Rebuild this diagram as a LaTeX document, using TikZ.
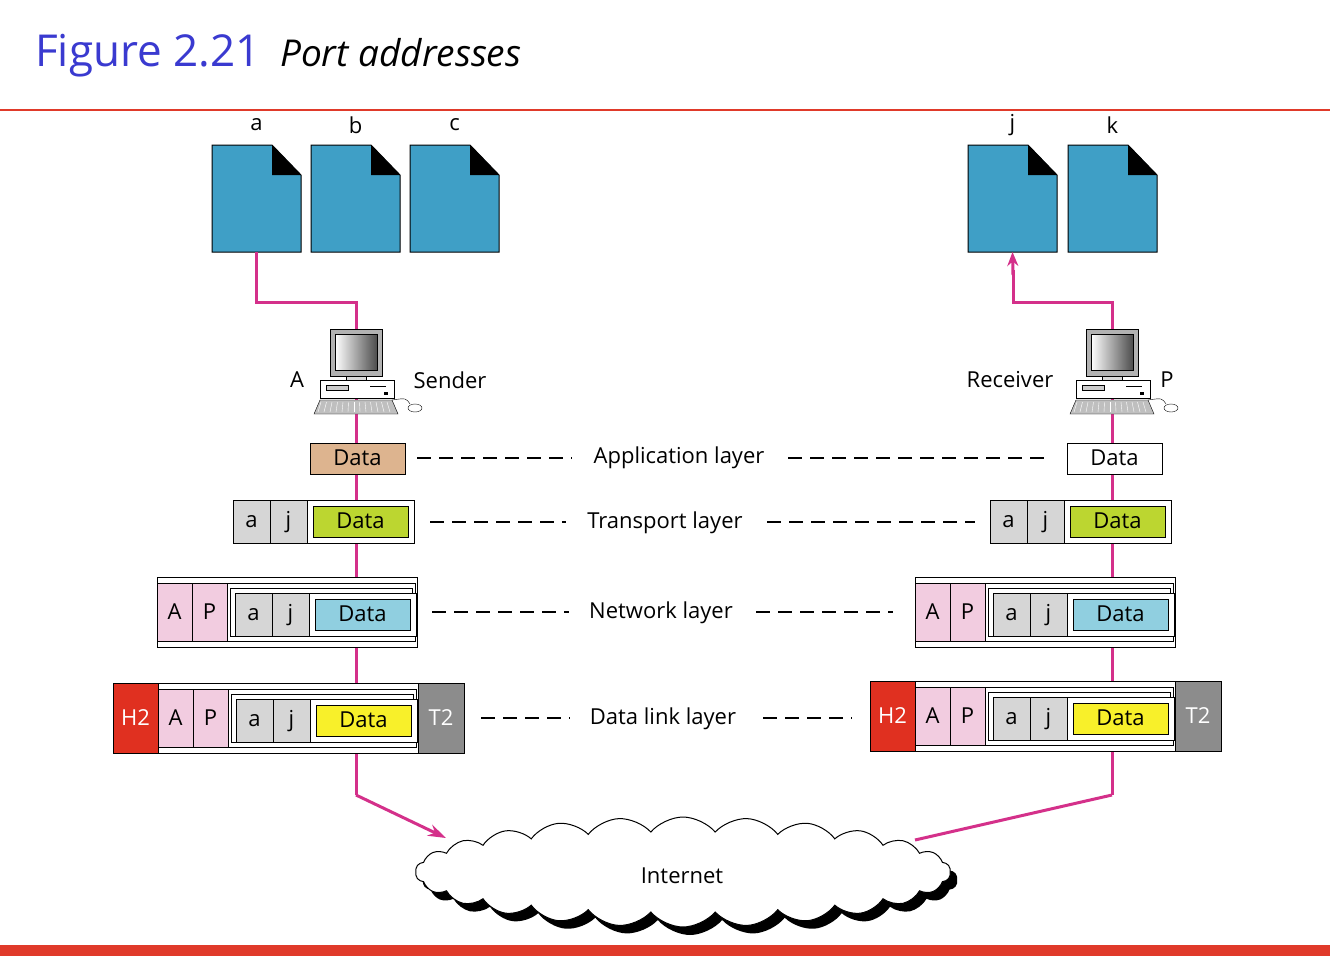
\documentclass[tikz,border=0pt]{standalone}
\usepackage{fontspec}
\setmainfont{Open Sans}
\usetikzlibrary{shapes.symbols,arrows.meta}
\definecolor{docb}{HTML}{3F9FC6}
\definecolor{wire}{HTML}{D4308A}
\definecolor{tan}{HTML}{DDB48F}
\definecolor{grn}{HTML}{BCD630}
\definecolor{blu}{HTML}{90CFE0}
\definecolor{yel}{HTML}{F8F02A}
\definecolor{pnk}{HTML}{F2CCE0}
\definecolor{gry}{HTML}{D6D6D6}
\definecolor{hred}{HTML}{E03020}
\definecolor{tgry}{HTML}{8C8C8C}
\definecolor{ttl}{HTML}{3A3AD0}
\definecolor{rline}{HTML}{E03A2A}
\tikzset{
  lbl/.style={font=\fontsize{22}{24}\selectfont, inner sep=0pt},
  cell/.style={draw=black, line width=1pt},
  wire/.style={draw=wire, line width=3pt},
  dashln/.style={draw=black, line width=1.4pt, dash pattern=on 14pt off 8pt},
  doc/.style={fill=docb, draw=black, line width=1pt},
  cld/.style={cloud, cloud puffs=26, cloud puff arc=100, aspect=4.7, minimum width=535pt, minimum height=110pt},
}
\newcommand{\mydoc}[3]{%
  \draw[doc] (#1,145) -- (#1+60,145) -- (#1+89,175) -- (#1+89,252) -- (#1,252) -- cycle;
  \fill (#1+60,145) -- (#1+89,175) -- (#1+60,175) -- cycle;
  \coordinate (#2) at (#1+44.5,252);
  \node[lbl] (#2l) at (#1+44.5,125) {#3};
}
\newcommand{\mypc}[2]{%
  \coordinate (#2top) at (#1-10,330);
  \coordinate (#2bot) at (#1-10,415);
  \fill[gray!60, draw=black] (#1-36,329) rectangle (#1+16,376);
  \shade[left color=white, right color=black!70, draw=black] (#1-31,334) rectangle (#1+11,370);
  \draw[fill=gray!30] (#1-20,376) rectangle (#1,380);
  \draw[fill=white] (#1-46,380) rectangle (#1+28,398);
  \draw[fill=gray!40] (#1-40,385) rectangle (#1-18,390);
  \draw (#1+4,386) -- (#1+20,386);
  \fill (#1+18,392) rectangle (#1+22,395);
  \draw[fill=gray!50] (#1-46,400) -- (#1+26,400) -- (#1+32,414) -- (#1-52,414) -- cycle;
  \foreach \k in {0,...,12} {\draw[white, line width=0.4pt] (#1-45+\k*5.5,402) -- (#1-48+\k*6,412);}
  \draw (#1+26,400) .. controls (#1+40,398) .. (#1+44,404);
  \draw[fill=white] (#1+49,408) ellipse (7 and 4);
}
\newcommand{\trans}[3]{%
  \draw[cell, fill=gry] (#1,#2) rectangle +(37,43);
  \draw[cell, fill=gry] (#1+37,#2) rectangle +(37,43);
  \draw[cell, fill=white] (#1+74,#2) rectangle +(107,43);
  \draw[cell, fill=#3] (#1+80,#2+6) rectangle +(95,31);
  \node[lbl] at (#1+18.5,#2+22) {a};
  \node[lbl] at (#1+55.5,#2+22) {j};
  \node[lbl] at (#1+127.5,#2+21) {Data};
}
\newcommand{\netw}[3]{%
  \draw[cell, fill=white] (#1,#2) rectangle +(260,70);
  \draw[cell] (#1+2,#2+6) rectangle +(256,58);
  \draw[cell, fill=pnk] (#1,#2+6) rectangle +(35,58);
  \draw[cell, fill=pnk] (#1+35,#2+6) rectangle +(35,58);
  \node[lbl] at (#1+17.5,#2+35) {A};
  \node[lbl] at (#1+52.5,#2+35) {P};
  \draw[cell, fill=white] (#1+73,#2+11) rectangle +(182,48);
  \trans{#1+78}{#2+16}{#3}
}
\begin{document}
\begin{tikzpicture}[x=1pt,y=-1pt]
\useasboundingbox (0,0) rectangle (1330,956);
\fill[white] (0,0) rectangle (1330,956);
\node[anchor=base west, inner sep=0pt, text=ttl, font=\fontsize{44}{48}\selectfont] (ttl) at (35,66) {Figure 2.21};
\node[anchor=base west, inner sep=0pt, font=\fontsize{37}{42}\selectfont\itshape] (sub) at (280,66) {Port addresses};
\draw[rline, line width=1.5pt] (0,110) -- (1330,110);
\fill[rline] (0,945) rectangle (1330,956);
\mydoc{212}{da}{a}
\mydoc{311}{db}{b}
\mydoc{410}{dc}{c}
\mydoc{968}{dj}{j}
\mydoc{1068}{dk}{k}
\coordinate (sA) at (356,795);
\coordinate (sR) at (1112,795);
\draw[wire] (da) |- (356,302) -- (sA);
\draw[wire] (sR) -- (1112,302) -| (1013,270);
\draw[wire, -{Stealth[length=14pt,width=11pt]}] (1013,275) -- (dj);
\mypc{366}{pA}
\mypc{1122}{pR}
\node[lbl] (A) at (297,380) {A};
\node[lbl] (snd) at (450,380) {Sender};
\node[lbl] (rcv) at (1010,380) {Receiver};
\node[lbl] (P) at (1167,380) {P};
\node[cld, fill=black] at (690,880) {};
\node[cld, fill=white, draw=black, line width=1pt] (inet) at (683,872) {};
\node[lbl] (inetl) at (682,876) {Internet};
\draw[wire, -{Stealth[length=18pt,width=12pt]}] (sA) -- (446,838);
\draw[wire] (sR) -- (915,840);
\draw[cell, fill=tan] (310,443) rectangle (405,474);
\node[lbl] (appS) at (357.5,458) {Data};
\draw[cell, fill=white] (1067,443) rectangle (1162,474);
\node[lbl] (appR) at (1114.5,458) {Data};
\node[lbl] (appL) at (679,458) {Application layer};
\draw[dashln] (417,458) -- (572,458);
\draw[dashln] (788,458) -- (1045,458);
\trans{233}{500}{grn}
\trans{990}{500}{grn}
\node[lbl] (trL) at (665,523) {Transport layer};
\draw[dashln] (430,522) -- (566,522);
\draw[dashln] (767,522) -- (975,522);
\netw{157}{577}{blu}
\netw{915}{577}{blu}
\node[lbl] (nwL) at (661,613) {Network layer};
\draw[dashln] (432,612) -- (569,612);
\draw[dashln] (756,612) -- (893,612);
\draw[cell, fill=hred] (113,683) rectangle (158,753);
\node[lbl, text=white] at (135.5,718) {H2};
\netw{158}{683}{yel}
\draw[cell, fill=tgry] (418,683) rectangle (464,753);
\node[lbl, text=white] at (441,718) {T2};
\draw[cell, fill=hred] (870,681) rectangle (915,751);
\node[lbl, text=white] at (892.5,716) {H2};
\netw{915}{681}{yel}
\draw[cell, fill=tgry] (1175,681) rectangle (1221,751);
\node[lbl, text=white] at (1198,716) {T2};
\node[lbl] (dlL) at (663,719) {Data link layer};
\draw[dashln] (481,718) -- (570,718);
\draw[dashln] (763,718) -- (852,718);
\end{tikzpicture}
\end{document}
